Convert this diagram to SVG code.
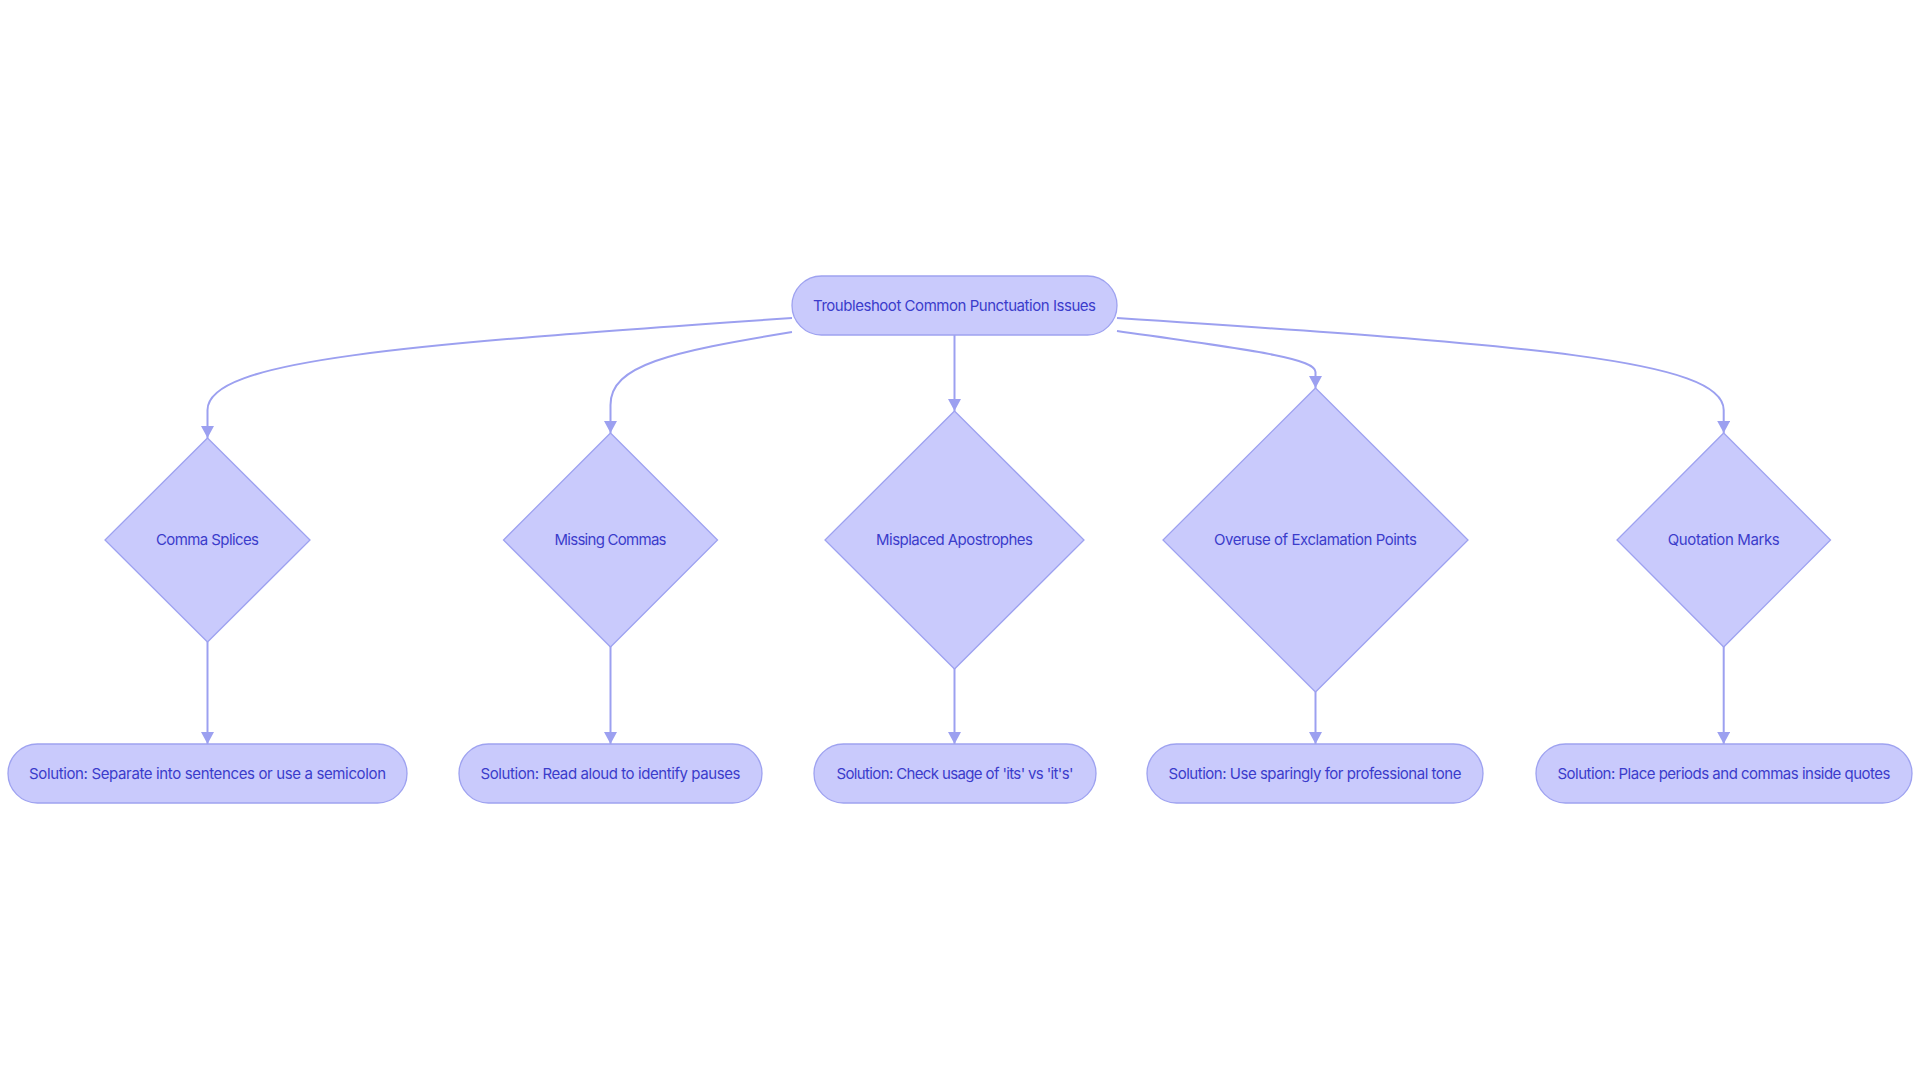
<svg xmlns="http://www.w3.org/2000/svg" width="1920" height="1083" viewBox="0 0 1920 1083">
<style>
.n{fill:#c9cafc;stroke:#9ea2f0;stroke-width:1.3}
.t{font-family:Inter,"Liberation Sans",sans-serif;font-size:15px;fill:#3b3ccb;text-anchor:middle}
.e{fill:none;stroke:#9ca0f0;stroke-width:2}
</style>
<defs>
<marker id="ah" viewBox="0 0 12 13" refX="12" refY="6.5" markerWidth="12" markerHeight="13" markerUnits="userSpaceOnUse" orient="auto">
<path d="M0,0 L12,6.5 L0,13 Z" fill="#9ca0f0"/>
</marker>
</defs>
<rect width="1920" height="1083" fill="#ffffff"/>
<g id="connectors">
<path class="e" d="M792,318 C400,345 207.5,360 207.5,410 L207.5,438" marker-end="url(#ah)"/>
<path class="e" d="M792,332 C670,352 610.5,365 610.5,405 L610.5,433" marker-end="url(#ah)"/>
<path class="e" d="M954.5,335 L954.5,411" marker-end="url(#ah)"/>
<path class="e" d="M1117,331 C1250,350 1315.5,358 1315.5,372 L1315.5,388" marker-end="url(#ah)"/>
<path class="e" d="M1117,318 C1530,345 1723.7,360 1723.7,410 L1723.7,433" marker-end="url(#ah)"/>
<path class="e" d="M207.5,642 L207.5,744" marker-end="url(#ah)"/>
<path class="e" d="M610.5,646 L610.5,744" marker-end="url(#ah)"/>
<path class="e" d="M954.5,668 L954.5,744" marker-end="url(#ah)"/>
<path class="e" d="M1315.5,692 L1315.5,744" marker-end="url(#ah)"/>
<path class="e" d="M1723.7,646 L1723.7,744" marker-end="url(#ah)"/>
</g>
<g id="root">
<rect class="n" x="792" y="276" width="325" height="59" rx="29.5"/>
<text class="t" x="954.5" y="311" textLength="283">Troubleshoot Common Punctuation Issues</text>
</g>
<g id="commaSplices">
<polygon class="n" points="207.5,438 310,540 207.5,642 105,540"/>
<text class="t" x="207.5" y="545" textLength="103">Comma Splices</text>
</g>
<g id="missingCommas">
<polygon class="n" points="610.5,433 717.5,540 610.5,647 503.5,540"/>
<text class="t" x="610.5" y="545" textLength="112">Missing Commas</text>
</g>
<g id="misplacedApostrophes">
<polygon class="n" points="954.5,411 1084,540 954.5,669 825,540"/>
<text class="t" x="954.5" y="545" textLength="157">Misplaced Apostrophes</text>
</g>
<g id="overuse">
<polygon class="n" points="1315.5,388 1468,540 1315.5,692 1163,540"/>
<text class="t" x="1315.5" y="545" textLength="203">Overuse of Exclamation Points</text>
</g>
<g id="quotationMarks">
<polygon class="n" points="1723.7,433 1830.5,540 1723.7,647 1617,540"/>
<text class="t" x="1723.7" y="545" textLength="112">Quotation Marks</text>
</g>
<g id="sol1">
<rect class="n" x="8" y="744" width="399" height="59" rx="29.5"/>
<text class="t" x="207.5" y="778.5" textLength="357">Solution: Separate into sentences or use a semicolon</text>
</g>
<g id="sol2">
<rect class="n" x="459" y="744" width="303" height="59" rx="29.5"/>
<text class="t" x="610.5" y="778.5" textLength="260">Solution: Read aloud to identify pauses</text>
</g>
<g id="sol3">
<rect class="n" x="814" y="744" width="282" height="59" rx="29.5"/>
<text class="t" x="955" y="778.5" textLength="237">Solution: Check usage of 'its' vs 'it's'</text>
</g>
<g id="sol4">
<rect class="n" x="1147" y="744" width="336" height="59" rx="29.5"/>
<text class="t" x="1315" y="778.5" textLength="293">Solution: Use sparingly for professional tone</text>
</g>
<g id="sol5">
<rect class="n" x="1536" y="744" width="376" height="59" rx="29.5"/>
<text class="t" x="1724" y="778.5" textLength="333">Solution: Place periods and commas inside quotes</text>
</g>
</svg>
